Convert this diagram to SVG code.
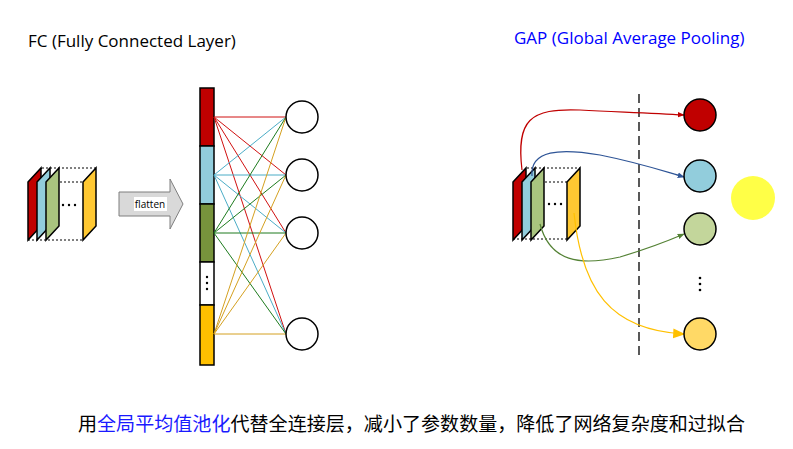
<svg xmlns="http://www.w3.org/2000/svg" width="793" height="449" viewBox="0 0 793 449">
<style>
.t{font-family:"Open Sans","Noto Sans",sans-serif;font-size:17px}
.cjk{font-family:"Noto Sans CJK SC",sans-serif;font-size:19px}
.slab{stroke:#000;stroke-width:1.5}
.box{fill:none;stroke:#000;stroke-width:1;stroke-dasharray:2,2}
.node{stroke:#000;stroke-width:1.5}
.dot{fill:#000}
.fc line{stroke-width:1}
.gap path{fill:none;stroke-width:1.2}
</style>
<defs>
<marker id="ar" viewBox="0 0 10 10" refX="9" refY="5" markerWidth="7" markerHeight="7" orient="auto" markerUnits="userSpaceOnUse"><path d="M0,1 L10,5 L0,9z" fill="context-stroke"/></marker>
<marker id="ar2" viewBox="0 0 10 10" refX="9" refY="5" markerWidth="12" markerHeight="12" orient="auto" markerUnits="userSpaceOnUse"><path d="M0,1 L10,5 L0,9z" fill="#FFC000"/></marker>
</defs>
<rect width="793" height="449" fill="#fff"/>
<text class="t" x="28" y="47">FC (Fully Connected Layer)</text>
<text class="t" x="514" y="44" fill="#0000FF">GAP (Global Average Pooling)</text>

<g id="fc-input">
<path class="box" d="M42,168 H97 M28,182 H83 M28,240 H83 M42,168 L28,182"/>
<polygon class="slab" fill="#C00000" points="28,182 41,168 41,226 28,240"/>
<polygon class="slab" fill="#92CDDC" points="37,182 50,168 50,226 37,240"/>
<polygon class="slab" fill="#A9C47F" points="46,182 59,168 59,226 46,240"/>
<circle class="dot" cx="63" cy="205" r="1.2"/><circle class="dot" cx="69" cy="205" r="1.2"/><circle class="dot" cx="75" cy="205" r="1.2"/>
<polygon class="slab" fill="#FFC832" points="83,182 96,168 96,226 83,240"/>
</g>

<g id="flatten">
<polygon points="119,192 170,192 170,179 183,204 170,229 170,216 119,216" fill="#D9D9D9" stroke="#7F7F7F" stroke-width="1"/>
<rect x="134" y="197" width="33" height="14" fill="#fff"/>
<text x="150" y="208" text-anchor="middle" font-family="Open Sans,sans-serif" font-size="10">flatten</text>
</g>

<g id="fc-vector" stroke="#000" stroke-width="1.5">
<rect x="200" y="88" width="14" height="58" fill="#C00000"/>
<rect x="200" y="146" width="14" height="58" fill="#92CDDC"/>
<rect x="200" y="204" width="14" height="58" fill="#77933C"/>
<rect x="200" y="262" width="14" height="43" fill="#fff"/>
<rect x="200" y="305" width="14" height="60" fill="#FFC000"/>
<circle cx="207" cy="277" r="1.2" fill="#000" stroke="none"/><circle cx="207" cy="283" r="1.2" fill="#000" stroke="none"/><circle cx="207" cy="289" r="1.2" fill="#000" stroke="none"/>
</g>

<g id="fc-connectors" class="fc">
<g stroke="#D01010"><line x1="214" y1="117" x2="286" y2="117"/><line x1="214" y1="117" x2="286" y2="175"/><line x1="214" y1="117" x2="286" y2="233"/><line x1="214" y1="117" x2="286" y2="334"/></g>
<g stroke="#4BACC6"><line x1="214" y1="175" x2="286" y2="117"/><line x1="214" y1="175" x2="286" y2="175"/><line x1="214" y1="175" x2="286" y2="233"/><line x1="214" y1="175" x2="286" y2="334"/></g>
<g stroke="#1E7B1E"><line x1="214" y1="233" x2="286" y2="117"/><line x1="214" y1="233" x2="286" y2="175"/><line x1="214" y1="233" x2="286" y2="233"/><line x1="214" y1="233" x2="286" y2="334"/></g>
<g stroke="#D4A020"><line x1="214" y1="334" x2="286" y2="117"/><line x1="214" y1="334" x2="286" y2="175"/><line x1="214" y1="334" x2="286" y2="233"/><line x1="214" y1="334" x2="286" y2="334"/></g>
</g>

<g id="fc-out1"><circle class="node" cx="302" cy="117" r="16" fill="#fff"/></g>
<g id="fc-out2"><circle class="node" cx="302" cy="175" r="16" fill="#fff"/></g>
<g id="fc-out3"><circle class="node" cx="302" cy="233" r="16" fill="#fff"/></g>
<g id="fc-out4"><circle class="node" cx="302" cy="334" r="16" fill="#fff"/></g>

<g id="gap-input">
<path class="box" d="M527,168 H580 M513,182 H567 M513,239 H567"/>
<polygon class="slab" fill="#C00000" points="513,182 526,168 526,226 513,240"/>
<polygon class="slab" fill="#92CDDC" points="522,182 535,168 535,226 522,240"/>
<polygon class="slab" fill="#A9C47F" points="531,182 544,168 544,226 531,240"/>
<circle class="dot" cx="549" cy="204" r="1.2"/><circle class="dot" cx="555" cy="204" r="1.2"/><circle class="dot" cx="561" cy="204" r="1.2"/>
<polygon class="slab" fill="#FFC832" points="567,182 580,168 580,226 567,240"/>
</g>

<line x1="639" y1="94" x2="639" y2="358" stroke="#000" stroke-width="1.3" stroke-dasharray="9,5"/>

<g id="gap-connectors" class="gap">
<path d="M522,170 C516,120 530,108 580,110 C620,112 650,113 684,115" stroke="#C00000" marker-end="url(#ar)"/>
<path d="M532,176 C530,150 560,148 600,155 C640,163 660,170 684,177" stroke="#2F5597" marker-end="url(#ar)"/>
<path d="M540,224 C550,262 580,266 620,257 C650,248 670,240 684,234" stroke="#548235" marker-end="url(#ar)"/>
<path d="M574,213 C582,290 610,330 684,334" stroke="#FFC000" marker-end="url(#ar2)"/>
</g>

<g id="gap-out1"><circle class="node" cx="700" cy="115" r="16" fill="#C00000"/></g>
<g id="gap-out2"><circle class="node" cx="700" cy="176" r="16" fill="#92CDDC"/></g>
<g id="gap-out3"><circle class="node" cx="700" cy="229" r="16" fill="#C3D69B"/></g>
<circle class="dot" cx="700" cy="278" r="1.3"/><circle class="dot" cx="700" cy="284" r="1.3"/><circle class="dot" cx="700" cy="290" r="1.3"/>
<g id="gap-out4"><circle class="node" cx="700" cy="334" r="16" fill="#FFD966"/></g>

<circle cx="753" cy="198" r="22" fill="#FFFF33" opacity="0.9"/>

<text class="cjk" x="78" y="431" textLength="667" lengthAdjust="spacingAndGlyphs">用<tspan fill="#1A1AFF">全局平均值池化</tspan>代替全连接层，减小了参数数量，降低了网络复杂度和过拟合</text>
</svg>
